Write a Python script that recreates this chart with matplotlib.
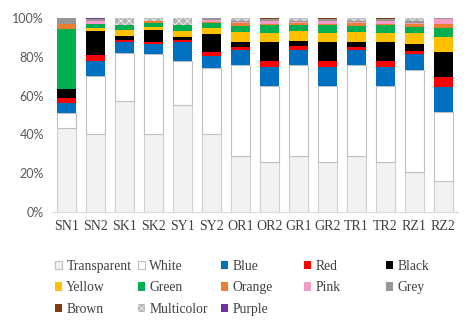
import matplotlib
matplotlib.use("Agg")
import matplotlib.pyplot as plt
from matplotlib.patches import Patch
import numpy as np

plt.rcParams["hatch.linewidth"] = 0.6

categories = ["SN1", "SN2", "SK1", "SK2", "SY1", "SY2", "OR1", "OR2",
              "GR1", "GR2", "TR1", "TR2", "RZ1", "RZ2"]

transparent = [43, 40, 57, 40, 55, 40, 29, 25.5, 29, 25.5, 29, 25.5, 20.5, 16]
white = [8, 30, 25, 41.4, 23, 34, 46.8, 39.5, 46.8, 39.5, 46.8, 39.5, 52.7, 35.4]
blue = [5, 7.8, 5.5, 5, 9.5, 6.5, 7.7, 9.7, 7.5, 9.7, 7.7, 9.7, 8.2, 13.2]
red = [2.5, 3, 1.2, 1.3, 1.2, 1.7, 1.7, 2.9, 2, 2.9, 1.7, 2.9, 1.7, 5.1]
black = [5, 12.5, 1.9, 6, 1.7, 9.3, 2.6, 10, 2.6, 10, 2.6, 10, 3.3, 12.9]
yellow = [0, 1.7, 3, 1.7, 3, 3.1, 5.2, 4.6, 5.5, 4.6, 5.2, 4.6, 5.7, 7.4]
green = [31, 2, 2.6, 2, 2.7, 2.6, 2.9, 3.9, 2.7, 3.9, 2.9, 3.9, 3.4, 5]
orange = [2.5, 0, 0, 1, 0, 0.8, 1.4, 1, 1.2, 1, 1.4, 1, 1.2, 1.8]
pink = [0, 1.5, 0, 0, 0, 1, 0.5, 1.5, 0.5, 1.5, 0.5, 1.5, 0.8, 2.5]
grey = [3, 1.2, 0, 0, 0, 1, 0.7, 0.9, 0.7, 0.9, 0.7, 0.9, 1, 0.7]
brown = [0, 0, 0, 0, 0, 0, 0, 0.5, 0, 0.5, 0, 0.5, 0, 0]
multicolor = [0, 0, 3.8, 1.5, 3.9, 0, 1.5, 0, 1.5, 0, 1.5, 0, 1.5, 0]
purple = [0, 0.3, 0, 0, 0, 0, 0, 0, 0, 0, 0, 0, 0, 0]

series_names = ["Transparent", "White", "Blue", "Red", "Black", "Yellow", "Green",
                "Orange", "Pink", "Grey", "Brown", "Multicolor", "Purple"]
series_values = [transparent, white, blue, red, black, yellow, green,
                 orange, pink, grey, brown, multicolor, purple]

styles = {
    "Transparent": dict(facecolor="#F2F2F2", edgecolor="#D0D0D0", linewidth=0.8),
    "White": dict(facecolor="#FFFFFF", edgecolor="#BFBFBF", linewidth=0.8),
    "Blue": dict(facecolor="#0070C0", edgecolor="none", linewidth=0),
    "Red": dict(facecolor="#FF0000", edgecolor="none", linewidth=0),
    "Black": dict(facecolor="#000000", edgecolor="none", linewidth=0),
    "Yellow": dict(facecolor="#FFC000", edgecolor="none", linewidth=0),
    "Green": dict(facecolor="#00B050", edgecolor="none", linewidth=0),
    "Orange": dict(facecolor="#ED7D31", edgecolor="none", linewidth=0),
    "Pink": dict(facecolor="#F59BC8", edgecolor="none", linewidth=0),
    "Grey": dict(facecolor="#969696", edgecolor="none", linewidth=0),
    "Brown": dict(facecolor="#843C0C", edgecolor="none", linewidth=0),
    "Multicolor": dict(facecolor="#B4B4B4", edgecolor="#F2F2F2", linewidth=0, hatch="xxxx"),
    "Purple": dict(facecolor="#7030A0", edgecolor="none", linewidth=0),
}

fig = plt.figure(figsize=(4.74, 3.26), dpi=100)
ax = fig.add_axes([0.11, 0.35, 0.856, 0.595])

x = np.arange(len(categories))
bottom = np.zeros(len(categories))
for name, vals in zip(series_names, series_values):
    vals = np.array(vals, dtype=float)
    ax.bar(x, vals, width=0.66, bottom=bottom, label=name, **styles[name])
    bottom += vals

ax.set_xlim(-0.5, len(categories) - 0.5)
ax.set_ylim(0, 100)
ax.set_yticks([0, 20, 40, 60, 80, 100])
ax.set_yticklabels([f"{v}%" for v in [0, 20, 40, 60, 80, 100]],
                   fontfamily="Lato", fontsize=9, color="#595959")
ax.set_xticks(x)
ax.set_xticklabels(categories, fontfamily="Liberation Serif", fontsize=10, color="#404040")
ax.tick_params(axis="both", length=0)
ax.tick_params(axis="x", pad=6)
ax.tick_params(axis="y", pad=6)
for s in ["top", "right", "left"]:
    ax.spines[s].set_visible(False)
ax.spines["bottom"].set_color("#D9D9D9")
ax.spines["bottom"].set_linewidth(0.8)

# Legend laid out on a fixed 5-column grid
rows = [["Transparent", "White", "Blue", "Red", "Black"],
        ["Yellow", "Green", "Orange", "Pink", "Grey"],
        ["Brown", "Multicolor", "Purple"]]
col_x = [48, 131, 214, 297, 379]
for c in range(5):
    col_names = [r[c] for r in rows if c < len(r)]
    hs = [Patch(**dict(styles[n])) for n in col_names]
    for h, n in zip(hs, col_names):
        if n in ("Transparent", "White"):
            h.set_edgecolor("#BFBFBF")
    fig.legend(hs, col_names, loc="upper left",
               bbox_to_anchor=(col_x[c] / 474, 1 - 253 / 326),
               frameon=False, handlelength=0.55, handleheight=0.55,
               handletextpad=0.3, labelspacing=0.62, borderpad=0,
               prop=dict(family="Liberation Serif", size=9.8),
               labelcolor="#404040")

fig.savefig("out.png", dpi=100)
